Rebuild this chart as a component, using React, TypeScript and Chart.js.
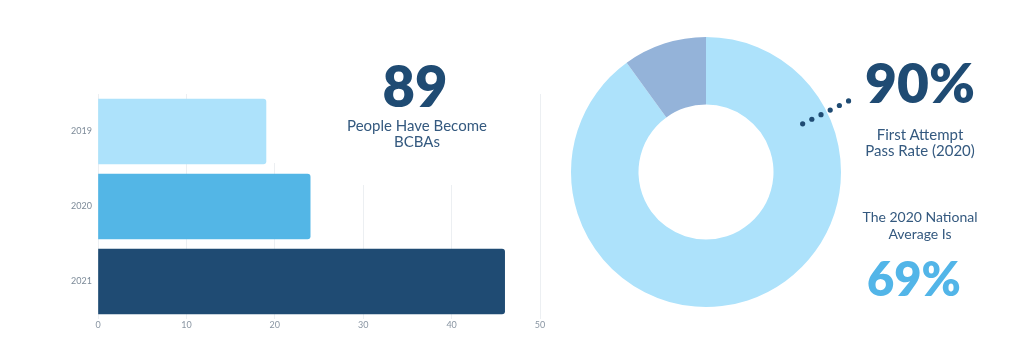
import React, { useEffect, useRef } from "react";
import { Chart, registerables } from "chart.js";

Chart.register(...registerables);

const barCategories = ["2019", "2020", "2021"];
const barValues = [19, 24, 46];
const barColors = ["#ade2fb", "#53b6e6", "#1f4b73"];
const xTicks = [0, 10, 20, 30, 40, 50];

const passLabels = ["First Attempt Pass", "Other"];
const passValues = [90, 10];
const passColors = ["#ade2fb", "#94b3d9"];

const NAVY = "#1f4b73";
const TEXT = "#34597f";
const FONT = "Lato, 'Open Sans', sans-serif";

const leaderDots = {
  id: "leaderDots",
  afterDraw(chart: any) {
    const meta = chart.getDatasetMeta(0);
    const arc = meta.data[0];
    if (!arc) return;
    const { x, y, outerRadius } = arc.getProps(["x", "y", "outerRadius"], true);
    const ctx = chart.ctx;
    const ang = (-26.5 * Math.PI) / 180;
    const r0 = outerRadius * 0.8;
    const r1 = outerRadius * 1.18;
    const n = 6;
    ctx.save();
    ctx.fillStyle = NAVY;
    for (let i = 0; i < n; i++) {
      const r = r0 + ((r1 - r0) * i) / (n - 1);
      ctx.beginPath();
      ctx.arc(x + r * Math.cos(ang), y + r * Math.sin(ang), 2.6, 0, Math.PI * 2);
      ctx.fill();
    }
    ctx.restore();
  },
};

export default function App() {
  const barRef = useRef<HTMLCanvasElement>(null);
  const pieRef = useRef<HTMLCanvasElement>(null);

  useEffect(() => {
    const bar = new Chart(barRef.current!, {
      type: "bar",
      data: {
        labels: barCategories,
        datasets: [
          {
            data: barValues,
            backgroundColor: barColors,
            barThickness: 65,
            borderRadius: 3,
            borderSkipped: "start",
          },
        ],
      },
      options: {
        indexAxis: "y",
        animation: false,
        responsive: false,
        maintainAspectRatio: false,
        layout: { padding: { top: 94, right: 20, left: 0, bottom: 0 } },
        plugins: { legend: { display: false }, tooltip: { enabled: false } },
        scales: {
          x: {
            min: 0,
            max: 50,
            afterBuildTicks: (s: any) => {
              s.ticks = xTicks.map((v) => ({ value: v }));
            },
            afterFit: (s: any) => {
              s.height = 40;
            },
            grid: { color: "#eceff2", drawTicks: false, lineWidth: 1 },
            border: { display: false },
            ticks: { padding: 1, color: "#8a96a3", font: { family: FONT, size: 9 } },
          },
          y: {
            afterFit: (s: any) => {
              s.width = 98;
            },
            grid: { display: false, drawTicks: false },
            border: { display: false },
            ticks: { padding: 6, color: "#7d8b99", font: { family: FONT, size: 9 } },
          },
        },
      },
    });

    const pie = new Chart(pieRef.current!, {
      type: "doughnut",
      data: {
        labels: passLabels,
        datasets: [
          {
            data: passValues,
            backgroundColor: passColors,
            borderWidth: 0,
          },
        ],
      },
      options: {
        animation: false,
        responsive: false,
        maintainAspectRatio: false,
        cutout: "50%",
        layout: { padding: { left: 11, right: 183, top: 37, bottom: 52 } },
        plugins: { legend: { display: false }, tooltip: { enabled: false } },
      },
      plugins: [leaderDots],
    });

    return () => {
      bar.destroy();
      pie.destroy();
    };
  }, []);

  const txt = (
    top: number,
    cx: number,
    size: number,
    lh: number,
    color: string,
    weight: number,
    content: React.ReactNode
  ) => (
    <div
      style={{
        position: "absolute",
        left: cx - 120,
        width: 240,
        top,
        textAlign: "center",
        fontFamily: FONT,
        fontSize: size,
        lineHeight: lh + "px",
        fontWeight: weight,
        color,
        whiteSpace: "nowrap",
      }}
    >
      {content}
    </div>
  );

  return (
    <div
      style={{
        position: "absolute",
        left: 0,
        top: 0,
        width: 1024,
        height: 359,
        background: "#fff",
        overflow: "hidden",
      }}
    >
      <canvas
        ref={barRef}
        width={560}
        height={359}
        style={{ position: "absolute", left: 0, top: 0, width: 560, height: 359 }}
      />
      <canvas
        ref={pieRef}
        width={464}
        height={359}
        style={{ position: "absolute", left: 560, top: 0, width: 464, height: 359 }}
      />
      <div style={{ position: "absolute", left: 269, top: 40, width: 258, height: 123, background: "#fff" }} />
      <div style={{ position: "absolute", left: 330, top: 163, width: 197, height: 22, background: "#fff" }} />
      {txt(58, 415, 56, 56, NAVY, 800, "89")}
      {txt(118, 417, 15, 15.6, TEXT, 400, <>People Have Become<br />BCBAs</>)}
      {txt(55, 920, 55, 55, NAVY, 800, "90%")}
      {txt(127, 920, 15, 15.5, TEXT, 400, <>First Attempt<br />Pass Rate (2020)</>)}
      {txt(207.5, 920, 14, 17.6, TEXT, 400, <>The 2020 National<br />Average Is</>)}
      {txt(255, 914, 47, 47, "#52b5e8", 800, "69%")}
    </div>
  );
}
